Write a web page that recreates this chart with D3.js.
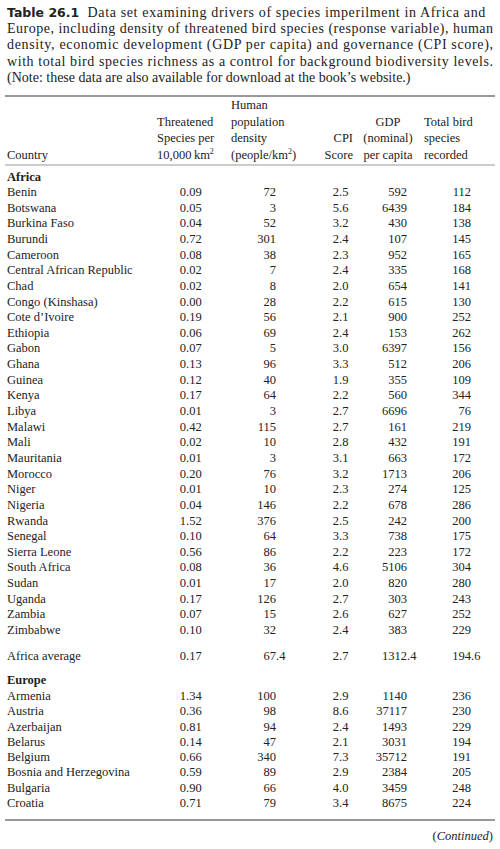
<!DOCTYPE html>
<html><head><meta charset="utf-8">
<script src="https://cdn.jsdelivr.net/npm/d3@7"></script>
<style>body{margin:0;background:#fff}svg{display:block}text{font-family:"Liberation Serif","DejaVu Serif",serif;fill:#222}</style>
</head><body><div id="t"></div>
<script>
// table data
var africaCountries = ["Benin","Botswana","Burkina Faso","Burundi","Cameroon","Central African Republic","Chad","Congo (Kinshasa)","Cote d\u2019Ivoire","Ethiopia","Gabon","Ghana","Guinea","Kenya","Libya","Malawi","Mali","Mauritania","Morocco","Niger","Nigeria","Rwanda","Senegal","Sierra Leone","South Africa","Sudan","Uganda","Zambia","Zimbabwe"];
var africaThreat = ["0.09","0.05","0.04","0.72","0.08","0.02","0.02","0.00","0.19","0.06","0.07","0.13","0.12","0.17","0.01","0.42","0.02","0.01","0.20","0.01","0.04","1.52","0.10","0.56","0.08","0.01","0.17","0.07","0.10"];
var africaDensity = ["72","3","52","301","38","7","8","28","56","69","5","96","40","64","3","115","10","3","76","10","146","376","64","86","36","17","126","15","32"];
var africaCPI = ["2.5","5.6","3.2","2.4","2.3","2.4","2.0","2.2","2.1","2.4","3.0","3.3","1.9","2.2","2.7","2.7","2.8","3.1","3.2","2.3","2.2","2.5","3.3","2.2","4.6","2.0","2.7","2.6","2.4"];
var africaGDP = ["592","6439","430","107","952","335","654","615","900","153","6397","512","355","560","6696","161","432","663","1713","274","678","242","738","223","5106","820","303","627","383"];
var africaBirds = ["112","184","138","145","165","168","141","130","252","262","156","206","109","344","76","219","191","172","206","125","286","200","175","172","304","280","243","252","229"];
var africaAverage = ["Africa average","0.17","67.4","2.7","1312.4","194.6"];

var europeCountries = ["Armenia","Austria","Azerbaijan","Belarus","Belgium","Bosnia and Herzegovina","Bulgaria","Croatia"];
var europeThreat = ["1.34","0.36","0.81","0.14","0.66","0.59","0.90","0.71"];
var europeDensity = ["100","98","94","47","340","89","66","79"];
var europeCPI = ["2.9","8.6","2.4","2.1","7.3","2.9","4.0","3.4"];
var europeGDP = ["1140","37117","1493","3031","35712","2384","3459","8675"];
var europeBirds = ["236","230","229","194","191","205","248","224"];

var captionLines = [
  "Data set examining drivers of species imperilment in Africa and",
  "Europe, including density of threatened bird species (response variable), human",
  "density, economic development (GDP per capita) and governance (CPI score),",
  "with total bird species richness as a control for background biodiversity levels.",
  "(Note: these data are also available for download at the book\u2019s website.)"
];

var width = 500, height = 849;
var svg = d3.select('#t').append('svg').attr('width', width).attr('height', height);

// caption
var capY = d3.scaleLinear().domain([0, 1]).range([17, 33.2]);
captionLines.forEach(function (line, i) {
  var t = svg.append('text').attr('x', 7).attr('y', capY(i)).style('font-size', '14px');
  if (i === 0) {
    t.append('tspan').text('Table 26.1').style('font-family', '"DejaVu Sans",sans-serif')
      .style('font-weight', 'bold').style('font-size', '12.5px');
    t.append('tspan').text('\u00a0\u00a0' + line).attr('textLength', 406).attr('lengthAdjust', 'spacing');
  } else if (i < 4) {
    t.text(line).attr('textLength', 486).attr('lengthAdjust', 'spacing');
  } else {
    t.text(line);
  }
});

// rules
function rule(y, w) {
  svg.append('line').attr('x1', 5).attr('x2', 495).attr('y1', y).attr('y2', y)
    .attr('stroke', '#999').attr('stroke-width', w);
}
rule(96, 2); rule(165, 1); rule(820, 2);

// header
var hdrY = d3.scaleLinear().domain([0, 1]).range([109, 125.5]);
var headers = [
  {x: 7, anchor: 'start', lines: ['', '', '', 'Country']},
  {x: 157, anchor: 'start', lines: ['', 'Threatened', 'Species per', '10,000\u2009km\u00b2']},
  {x: 231, anchor: 'start', lines: ['Human', 'population', 'density', '(people/km\u00b2)']},
  {x: 353, anchor: 'end', lines: ['', '', 'CPI', 'Score']},
  {x: 388, anchor: 'middle', lines: ['', 'GDP', '(nominal)', 'per capita']},
  {x: 424, anchor: 'start', lines: ['', 'Total bird', 'species', 'recorded']}
];
headers.forEach(function (h) {
  h.lines.forEach(function (l, i) {
    if (!l) return;
    var t = svg.append('text').attr('x', h.x).attr('y', hdrY(i)).attr('text-anchor', h.anchor)
      .style('font-size', '12.5px');
    var m = l.match(/^(.*)\u00b2(\)?)$/);
    if (m) {
      t.append('tspan').text(m[1]);
      t.append('tspan').text('2').attr('dy', -5).style('font-size', '8px');
      if (m[2]) t.append('tspan').text(m[2]).attr('dy', 5);
    } else t.text(l);
  });
});

// decimal-aligned cell
var decX = [0, 184, 276, 337, 407, 471];
function cell(v, col, y) {
  if (col === 0) {
    svg.append('text').attr('x', 7).attr('y', y).style('font-size', '12.5px').text(v);
    return;
  }
  var parts = v.split('.');
  var x = decX[col];
  var t = svg.append('text').attr('x', x).attr('y', y).attr('text-anchor', 'end').style('font-size', '12.5px');
  if (parts.length === 1 || col === 1 || col === 3) {
    // fixed-format columns: centre on the decimal point
    if (parts.length === 2) {
      svg.append('text').attr('x', x + 2).attr('y', y).style('font-size', '12.5px').text('.' + parts[1]);
      t.text(parts[0]).attr('x', x + 2);
    } else t.text(v);
  } else {
    t.text(parts[0]);
    svg.append('text').attr('x', x).attr('y', y).style('font-size', '12.5px').text('.' + parts[1]);
  }
}
function section(title, titleY, names, cols, yScale) {
  svg.append('text').attr('x', 7).attr('y', titleY).style('font-size', '12.5px')
    .style('font-weight', 'bold').text(title);
  names.forEach(function (n, i) {
    var y = yScale(i);
    cell(n, 0, y);
    cols.forEach(function (c, j) { cell(c[i], j + 1, y); });
  });
}

var yAfrica = d3.scaleLinear().domain([0, africaCountries.length - 1]).range([196, 634]);
section('Africa', 181, africaCountries, [africaThreat, africaDensity, africaCPI, africaGDP, africaBirds], yAfrica);
africaAverage.forEach(function (v, j) { cell(v, j, 660); });

var yEurope = d3.scaleLinear().domain([0, europeCountries.length - 1]).range([700, 807]);
section('Europe', 684, europeCountries, [europeThreat, europeDensity, europeCPI, europeGDP, europeBirds], yEurope);

svg.append('text').attr('x', 493).attr('y', 840).attr('text-anchor', 'end').style('font-size', '12.5px')
  .html('(<tspan font-style="italic">Continued</tspan>)');
</script></body></html>
